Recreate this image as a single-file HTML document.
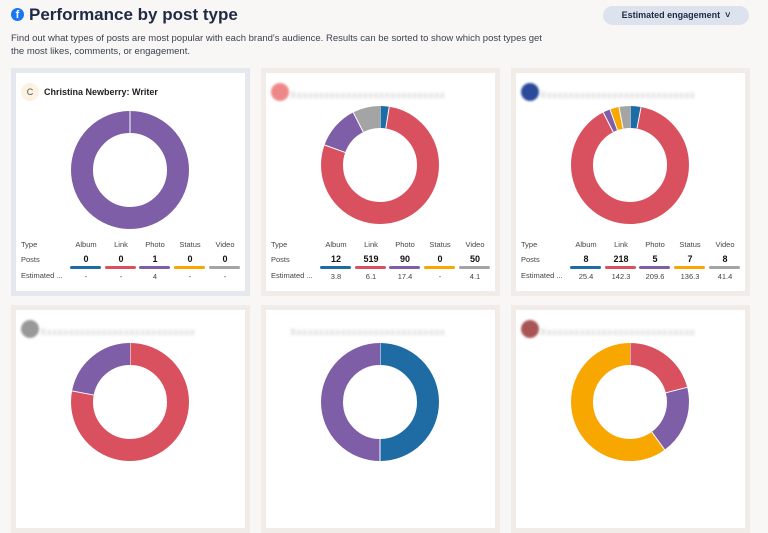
<!DOCTYPE html>
<html><head><style>
body{margin:0;width:768px;height:468px;background:#f9f7f5;font-family:"Liberation Sans",sans-serif;position:relative;overflow:hidden;color:#222}
.abs{position:absolute}
.card{position:absolute;width:229px;height:218px;background:#fff;border:5px solid #f1ece8}
.card.sel{border-color:#e5e8ee}
.tbl{position:absolute;left:5px;top:167px;font-size:7.5px;color:#444;width:220px}
.row{position:absolute;left:0;width:220px;height:12px}
.row span{position:absolute;text-align:center;width:32px}
.row span.l{text-align:left;width:50px;left:0}
.bar{position:absolute;height:3px;width:31px;top:11px;border-radius:2px}
.name{position:absolute;left:24px;top:17px;font-size:9px;color:#bbb;filter:blur(1.5px);letter-spacing:1px}
.av{position:absolute;left:5px;top:10px;width:18px;height:18px;border-radius:50%}
</style></head><body>
<div class="abs" style="left:11px;top:8px;width:13px;height:13px;border-radius:50%;background:#1877f2;color:#fff;font-size:11px;font-weight:bold;text-align:center;line-height:15px;overflow:hidden">f</div>
<div class="abs" style="left:29px;top:5px;font-size:17px;font-weight:bold;color:#1f2a44">Performance by post type</div>
<div class="abs" style="left:11px;top:32px;font-size:9.5px;color:#3a4252;line-height:13px;width:540px">Find out what types of posts are most popular with each brand's audience. Results can be sorted to show which post types get the most likes, comments, or engagement.</div>
<div class="abs" style="left:603px;top:6px;width:146px;height:19px;border-radius:10px;background:#dde3ec;font-size:9px;font-weight:bold;color:#1f2a44;line-height:19px;text-align:center">Estimated engagement &nbsp;˅</div>

<div id="cards"></div>
<script>
const C={b:'#1f6ca4',r:'#d9505f',p:'#7e5ea6',o:'#f8a600',g:'#a4a4a4'};
const cards=[
 {x:11,y:68,sel:1,segs:[['p',1]],name:'Christina Newberry: Writer',posts:[0,0,1,0,0],est:['-','-','4','-','-']},
 {x:261,y:68,segs:[['b',.025],['r',.78],['p',.12],['g',.075]],posts:[12,519,90,0,50],est:['3.8','6.1','17.4','-','4.1'],av:'#e88'},
 {x:511,y:68,segs:[['b',.03],['r',.895],['p',.02],['o',.025],['g',.03]],posts:[8,218,5,7,8],est:['25.4','142.3','209.6','136.3','41.4'],av:'#2a4a9a'},
 {x:11,y:305,segs:[['r',.78],['p',.22]],av:'#999'},
 {x:261,y:305,segs:[['b',.5],['p',.5]]},
 {x:511,y:305,segs:[['r',.21],['p',.19],['o',.6]],av:'#a55'}
];
let h='';
cards.forEach(c=>{
 h+=`<div class="card${c.sel?' sel':''}" style="left:${c.x}px;top:${c.y}px">`;
 if(c.name) h+=`<div class="av" style="background:#fdf1e2;color:#555;font-size:9px;text-align:center;line-height:18px">C</div><div style="position:absolute;left:28px;top:14px;font-size:9px;font-weight:bold;color:#222">${c.name}</div>`;
 else h+=`<div class="av" style="background:${c.av||'#fff'};filter:blur(1px)"></div><div class="name">Xxxxxxxxxxxxxxxxxxxxxxxxxxxx</div>`;
 const cx=114,cy=c.name?97:92,r=48,circ=2*Math.PI*r;let off=0,s='';
 c.segs.forEach(([k,f])=>{s+=`<circle cx="${cx}" cy="${cy}" r="${r}" fill="none" stroke="${C[k]}" stroke-width="22" stroke-dasharray="${f*circ} ${circ}" stroke-dashoffset="${-off*circ}" transform="rotate(-90 ${cx} ${cy})"/>`;
  if(c.segs.length>1)s+=`<line x1="${cx}" y1="${cy-r-11}" x2="${cx}" y2="${cy-r+11}" stroke="#fff" stroke-width="1" transform="rotate(${off*360} ${cx} ${cy})"/>`;off+=f;});
 if(c.segs.length==1)s+=`<line x1="${cx}" y1="${cy-r-11}" x2="${cx}" y2="${cy-r+11}" stroke="#fff" stroke-width="1"/>`;
 h+=`<svg style="position:absolute;left:0;top:0" width="229" height="218">${s}</svg>`;
 if(c.posts){
  const xs=[49,84,118,153,188];const ks=['b','r','p','o','g'];
  h+=`<div class="tbl"><div class="row" style="top:0"><span class="l">Type</span>`+['Album','Link','Photo','Status','Video'].map((t,i)=>`<span style="left:${xs[i]}px">${t}</span>`).join('')+`</div>`;
  h+=`<div class="row" style="top:15px"><span class="l">Posts</span>`+c.posts.map((t,i)=>`<span style="left:${xs[i]}px;font-weight:bold;font-size:9px;color:#111;top:-1px">${t}</span><div class="bar" style="left:${xs[i]}px;background:${C[ks[i]]}"></div>`).join('')+`</div>`;
  h+=`<div class="row" style="top:31px"><span class="l" style="width:60px">Estimated ...</span>`+c.est.map((t,i)=>`<span style="left:${xs[i]}px;top:1px">${t}</span>`).join('')+`</div></div>`;
 }
 h+='</div>';
});
document.getElementById('cards').innerHTML=h;
</script>
</body></html>
